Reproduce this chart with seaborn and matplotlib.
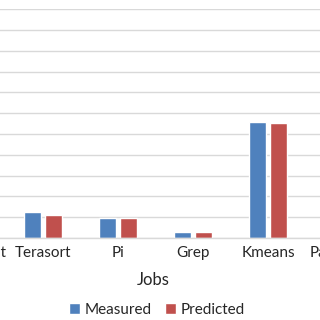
import pandas as pd
import numpy as np
import matplotlib.pyplot as plt
import seaborn as sns

# categories (edge ones are cut off in the picture, their bars are out of view)
jobs_all = ['Wordcount', 'Terasort', 'Pi', 'Grep', 'Kmeans', 'PageRank']
jobs = ['Terasort', 'Pi', 'Grep', 'Kmeans']
measured = [126, 95, 29, 557]
predicted = [111, 95, 28, 554]

df = pd.DataFrame({
    'Job': jobs * 2,
    'Time': measured + predicted,
    'Series': ['Measured'] * len(jobs) + ['Predicted'] * len(jobs),
})

sns.set_style('white')
plt.rcParams['font.family'] = ['Lato', 'DejaVu Sans']

fig = plt.figure(figsize=(3.2, 3.2), dpi=100)
# the chart is a crop of a wider figure, so the axes run past the edges
ax = fig.add_axes([-75 / 320, (320 - 238) / 320, 470 / 320, (238 - 9.3) / 320])

sns.barplot(data=df, x='Job', y='Time', hue='Series', order=jobs_all,
            palette=['#4F81BD', '#C0504D'], width=0.56, gap=0.19,
            saturation=1, ax=ax)

ax.set_xlim(-0.573, 5.693)
ax.set_xticks(range(len(jobs_all)))
ax.set_xticklabels(jobs_all)
ax.set_ylim(0, 1100)
ax.set_yticks(np.arange(0, 1101, 100))
ax.set_yticklabels([])
ax.yaxis.grid(True, color='#D9D9D9', linewidth=1.0)
ax.set_axisbelow(True)
for s in ['top', 'left', 'right']:
    ax.spines[s].set_visible(False)
ax.spines['bottom'].set_color('#D9D9D9')
ax.spines['bottom'].set_linewidth(1.0)
ax.tick_params(axis='both', length=0)
ax.tick_params(axis='x', labelsize=11, colors='#262626', pad=6)
ax.set_ylabel('')
ax.set_xlabel('Jobs', fontsize=12, color='#262626')
ax.xaxis.set_label_coords((153 + 75) / 470, -34 / 228.7)

ax.legend(loc='center', bbox_to_anchor=(157 / 320, 10 / 320), bbox_transform=fig.transFigure,
          ncol=2, frameon=False, fontsize=11, handlelength=0.7, handleheight=0.7,
          handletextpad=0.3, columnspacing=0.9, labelcolor='#262626')

plt.savefig('out.png', dpi=100)
